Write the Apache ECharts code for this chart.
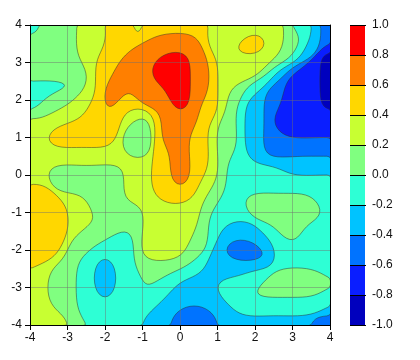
<!DOCTYPE html>
<html><head><meta charset="utf-8">
<script src="https://cdn.jsdelivr.net/npm/echarts@6/dist/echarts.min.js"></script>
<style>html,body{margin:0;padding:0;background:#fff}#c{width:420px;height:360px}</style>
</head><body><div id="c"></div>
<script>
// axis ticks
const xTicks = [-4, -3, -2, -1, 0, 1, 2, 3, 4];
const yTicks = [-4, -3, -2, -1, 0, 1, 2, 3, 4];
// contour levels and their fill colours
const levels = [-1, -0.8, -0.6, -0.4, -0.2, 0, 0.2, 0.4, 0.6, 0.8, 1];
const levelColors = ['#0000BE', '#0A1EFF', '#0073FF', '#00C3FF', '#2EFFD5',
                     '#80FF80', '#C8FF32', '#FFD700', '#FF7F00', '#FF0000'];
// sample positions (cell centres)
const xCells = [-3.875,-3.625,-3.375,-3.125,-2.875,-2.625,-2.375,-2.125,-1.875,-1.625,-1.375,-1.125,-0.875,-0.625,-0.375,-0.125,
                 0.125,0.375,0.625,0.875,1.125,1.375,1.625,1.875,2.125,2.375,2.625,2.875,3.125,3.375,3.625,3.875];
const yCells = [-3.875,-3.625,-3.375,-3.125,-2.875,-2.625,-2.375,-2.125,-1.875,-1.625,-1.375,-1.125,-0.875,-0.625,-0.375,-0.125,
                 0.125,0.375,0.625,0.875,1.125,1.375,1.625,1.875,2.125,2.375,2.625,2.875,3.125,3.375,3.625,3.875];
// band index (0 = -1..-0.8 ... 9 = 0.8..1) read per sample, rows from y=3.875 (top) down to y=-3.875
const bandRows = [
"45555666777677777776666666654432",
"55555666777778888876666776655432",
"55555666777888888876667776654331",
"55555667778888999887666666554310",
"55555567788889999887666665432110",
"55555567788889999887666654321110",
"44445567888888999887665443211110",
"44555667887888899887655432211110",
"45556677877788899877654332211110",
"55666677776667888877654332111111",
"66667777776557888876554332111111",
"66777777765557888776554332211111",
"66777777765557888776554332222222",
"66666666665557788776554332222222",
"66666666666667788776544433333333",
"66555555556667788776544444433333",
"66555555556667788766544444444444",
"77655555556667777765544444444444",
"77766655556666777665444555555544",
"77776655555566666655444555555554",
"77776665555566666654444455555554",
"77776655555566666654433344555444",
"77776555544566666554333334455444",
"77765554444566666554322233444444",
"77765544444566665543322223444444",
"76655443344555555443333333444444",
"66555443344455544433333444555554",
"66555443344454443333444445555555",
"66555443344444433333444455555554",
"66555444444444333333344444444444",
"66655444444443332223334444444443",
"66665544444433322222333333333322"
];

// ---- node lattice: outer pad (below every level), plot border (repeats edge sample), samples
const x0 = xTicks[0], x1 = xTicks[xTicks.length - 1];
const y0 = yTicks[0], y1 = yTicks[yTicks.length - 1];
const EX = [x0 - 0.25, x0].concat(xCells, [x1, x1 + 0.25]);
const EY = [y1 + 0.25, y1].concat(yCells.slice().reverse(), [y0, y0 - 0.25]);
const nCol = xCells.length, nRow = bandRows.length;
function band(i, j) {
  if (i === 0 || j === 0 || i === EX.length - 1 || j === EY.length - 1) return -1;
  const c = Math.min(Math.max(i - 2, 0), nCol - 1);
  const r = Math.min(Math.max(j - 2, 0), nRow - 1);
  return +bandRows[r][c];
}

// marching squares: closed, consistently oriented rings bounding "band >= k" (data coords)
function contourRings(k) {
  const pt = {}, next = {};
  function crossKey(a, b) {
    let A = a, B = b;
    if (a[0] > b[0] || a[1] > b[1]) { A = b; B = a; }
    const key = A[0] + '_' + A[1] + '_' + B[0] + '_' + B[1];
    if (!pt[key]) {
      const bA = band(A[0], A[1]), bB = band(B[0], B[1]);
      const t = ((k - 0.5) - bA) / (bB - bA);
      pt[key] = [EX[A[0]] + t * (EX[B[0]] - EX[A[0]]), EY[A[1]] + t * (EY[B[1]] - EY[A[1]])];
    }
    return key;
  }
  for (let j = 0; j < EY.length - 1; j++) {
    for (let i = 0; i < EX.length - 1; i++) {
      const cs = [[i, j], [i + 1, j], [i + 1, j + 1], [i, j + 1]];
      const ins = cs.map(function (c) { return band(c[0], c[1]) >= k; });
      if (ins[0] === ins[1] && ins[1] === ins[2] && ins[2] === ins[3]) continue;
      const walk = [];
      for (let e = 0; e < 4; e++) {
        const e2 = (e + 1) % 4;
        if (ins[e]) walk.push(null);
        if (ins[e] !== ins[e2]) walk.push(crossKey(cs[e], cs[e2]));
      }
      for (let q = 0; q < walk.length; q++) {
        const a = walk[q], b = walk[(q + 1) % walk.length];
        if (a && b) next[a] = b;
      }
    }
  }
  const out = [], seen = {};
  Object.keys(next).forEach(function (s) {
    if (seen[s]) return;
    const ring = [];
    let cur = s;
    while (cur && !seen[cur]) { seen[cur] = true; ring.push(pt[cur]); cur = next[cur]; }
    if (ring.length > 2) out.push(ring);
  });
  return out;
}

// low-pass (Taubin) smoothing of a ring outline; points on / outside the plot border stay fixed
function smoothRing(ring) {
  const n = ring.length, eps = 1e-9;
  const pinned = ring.map(function (p) {
    return p[0] <= x0 + eps || p[0] >= x1 - eps || p[1] <= y0 + eps || p[1] >= y1 - eps;
  });
  let P = ring.map(function (p) { return p.slice(); });
  for (let it = 0; it < 10; it++) {
    [0.5, -0.53].forEach(function (w) {
      P = P.map(function (p, i) {
        if (pinned[i]) return p;
        const a = P[(i - 1 + n) % n], b = P[(i + 1) % n];
        return [p[0] + w * ((a[0] + b[0]) / 2 - p[0]), p[1] + w * ((a[1] + b[1]) / 2 - p[1])];
      });
    });
  }
  return P;
}
const ringsByLevel = levelColors.map(function (c, k) {
  return k === 0 ? [] : contourRings(k).map(smoothRing);
});

function smoothPath(api, rings) {
  const f = function (p) { return p[0].toFixed(2) + ' ' + p[1].toFixed(2); };
  let d = '';
  rings.forEach(function (ring) {
    const r = ring.map(function (p) { return api.coord(p); });
    const n = r.length;
    const mid = function (i) { const a = r[i], b = r[(i + 1) % n]; return [(a[0] + b[0]) / 2, (a[1] + b[1]) / 2]; };
    d += 'M' + f(mid(n - 1));
    for (let i = 0; i < n; i++) d += 'Q' + f(r[i]) + ' ' + f(mid(i));
    d += 'Z';
  });
  return d;
}

const levelItems = levelColors.map(function (c, k) { return [0, 0, k]; });

// colour bar: stacked segments
const cbSeries = [];
const order = [5, 6, 7, 8, 9, 4, 3, 2, 1, 0];
order.forEach(function (k) {
  const v = k >= 5 ? levels[k + 1] - levels[k] : levels[k] - levels[k + 1];
  cbSeries.push({
    type: 'bar', xAxisIndex: 2, yAxisIndex: 2, stack: 'cb', barWidth: '100%',
    data: [v], itemStyle: { color: levelColors[k] }, silent: true, z: 2
  });
});

const font = { color: '#111', fontSize: 12, fontFamily: 'Liberation Sans, Arial, sans-serif' };
const gridCol = 'rgba(110,110,110,0.45)';

const chart = echarts.init(document.getElementById('c'), null, { renderer: 'canvas' });
chart.setOption({
  animation: false,
  backgroundColor: '#fff',
  grid: [
    { left: 30, top: 25, width: 300, height: 300 },
    { left: 350, top: 25, width: 15, height: 300 }
  ],
  xAxis: [
    { type: 'value', gridIndex: 0, min: x0, max: x1, interval: 1, position: 'bottom', z: 5,
      axisLine: { show: true, onZero: false, lineStyle: { color: '#000' } },
      axisTick: { show: true, length: 5, lineStyle: { color: '#000' } },
      axisLabel: Object.assign({ margin: 7 }, font),
      splitLine: { show: true, lineStyle: { color: gridCol, width: 1 } } },
    { type: 'value', gridIndex: 0, min: x0, max: x1, position: 'top', z: 5,
      axisLine: { show: true, onZero: false, lineStyle: { color: '#000' } },
      axisTick: { show: false }, axisLabel: { show: false }, splitLine: { show: false } },
    { type: 'category', gridIndex: 1, data: ['bar'], show: false }
  ],
  yAxis: [
    { type: 'value', gridIndex: 0, min: y0, max: y1, interval: 1, position: 'left', z: 5,
      axisLine: { show: true, onZero: false, lineStyle: { color: '#000' } },
      axisTick: { show: true, length: 5, lineStyle: { color: '#000' } },
      axisLabel: Object.assign({ margin: 8 }, font),
      splitLine: { show: true, lineStyle: { color: gridCol, width: 1 } } },
    { type: 'value', gridIndex: 0, min: y0, max: y1, position: 'right', z: 5,
      axisLine: { show: true, onZero: false, lineStyle: { color: '#000' } },
      axisTick: { show: false }, axisLabel: { show: false }, splitLine: { show: false } },
    { type: 'value', gridIndex: 1, min: levels[0], max: levels[levels.length - 1], interval: 0.2, position: 'right', z: 5,
      axisLine: { show: false },
      axisTick: { show: true, length: 1, lineStyle: { color: '#000' } },
      axisLabel: Object.assign({ margin: 7, formatter: function (v) { return Math.abs(v) < 1e-9 ? '0.0' : v.toFixed(1); } }, font),
      splitLine: { show: true, lineStyle: { color: '#000', width: 1 } } }
  ],
  series: [
    { type: 'custom', coordinateSystem: 'cartesian2d', xAxisIndex: 0, yAxisIndex: 0, silent: true, z: 2,
      encode: { x: 0, y: 1 }, data: levelItems, clip: true,
      renderItem: function (params, api) {
        const k = api.value(2);
        if (k === 0) {
          const a = api.coord([x0, y1]), b = api.coord([x1, y0]);
          return { type: 'rect', z2: 0, shape: { x: a[0], y: a[1], width: b[0] - a[0], height: b[1] - a[1] },
                   style: { fill: levelColors[0] } };
        }
        return { type: 'path', z2: k, shape: { pathData: smoothPath(api, ringsByLevel[k]) },
                 style: { fill: levelColors[k], stroke: null } };
      } },
    { type: 'custom', coordinateSystem: 'cartesian2d', xAxisIndex: 0, yAxisIndex: 0, silent: true, z: 3,
      encode: { x: 0, y: 1 }, data: levelItems.slice(1), clip: true,
      renderItem: function (params, api) {
        const k = api.value(2);
        return { type: 'path', shape: { pathData: smoothPath(api, ringsByLevel[k]) },
                 style: { fill: null, stroke: 'rgba(45,45,45,0.6)', lineWidth: 0.8 } };
      } }
  ].concat(cbSeries)
});
</script>
</body></html>
